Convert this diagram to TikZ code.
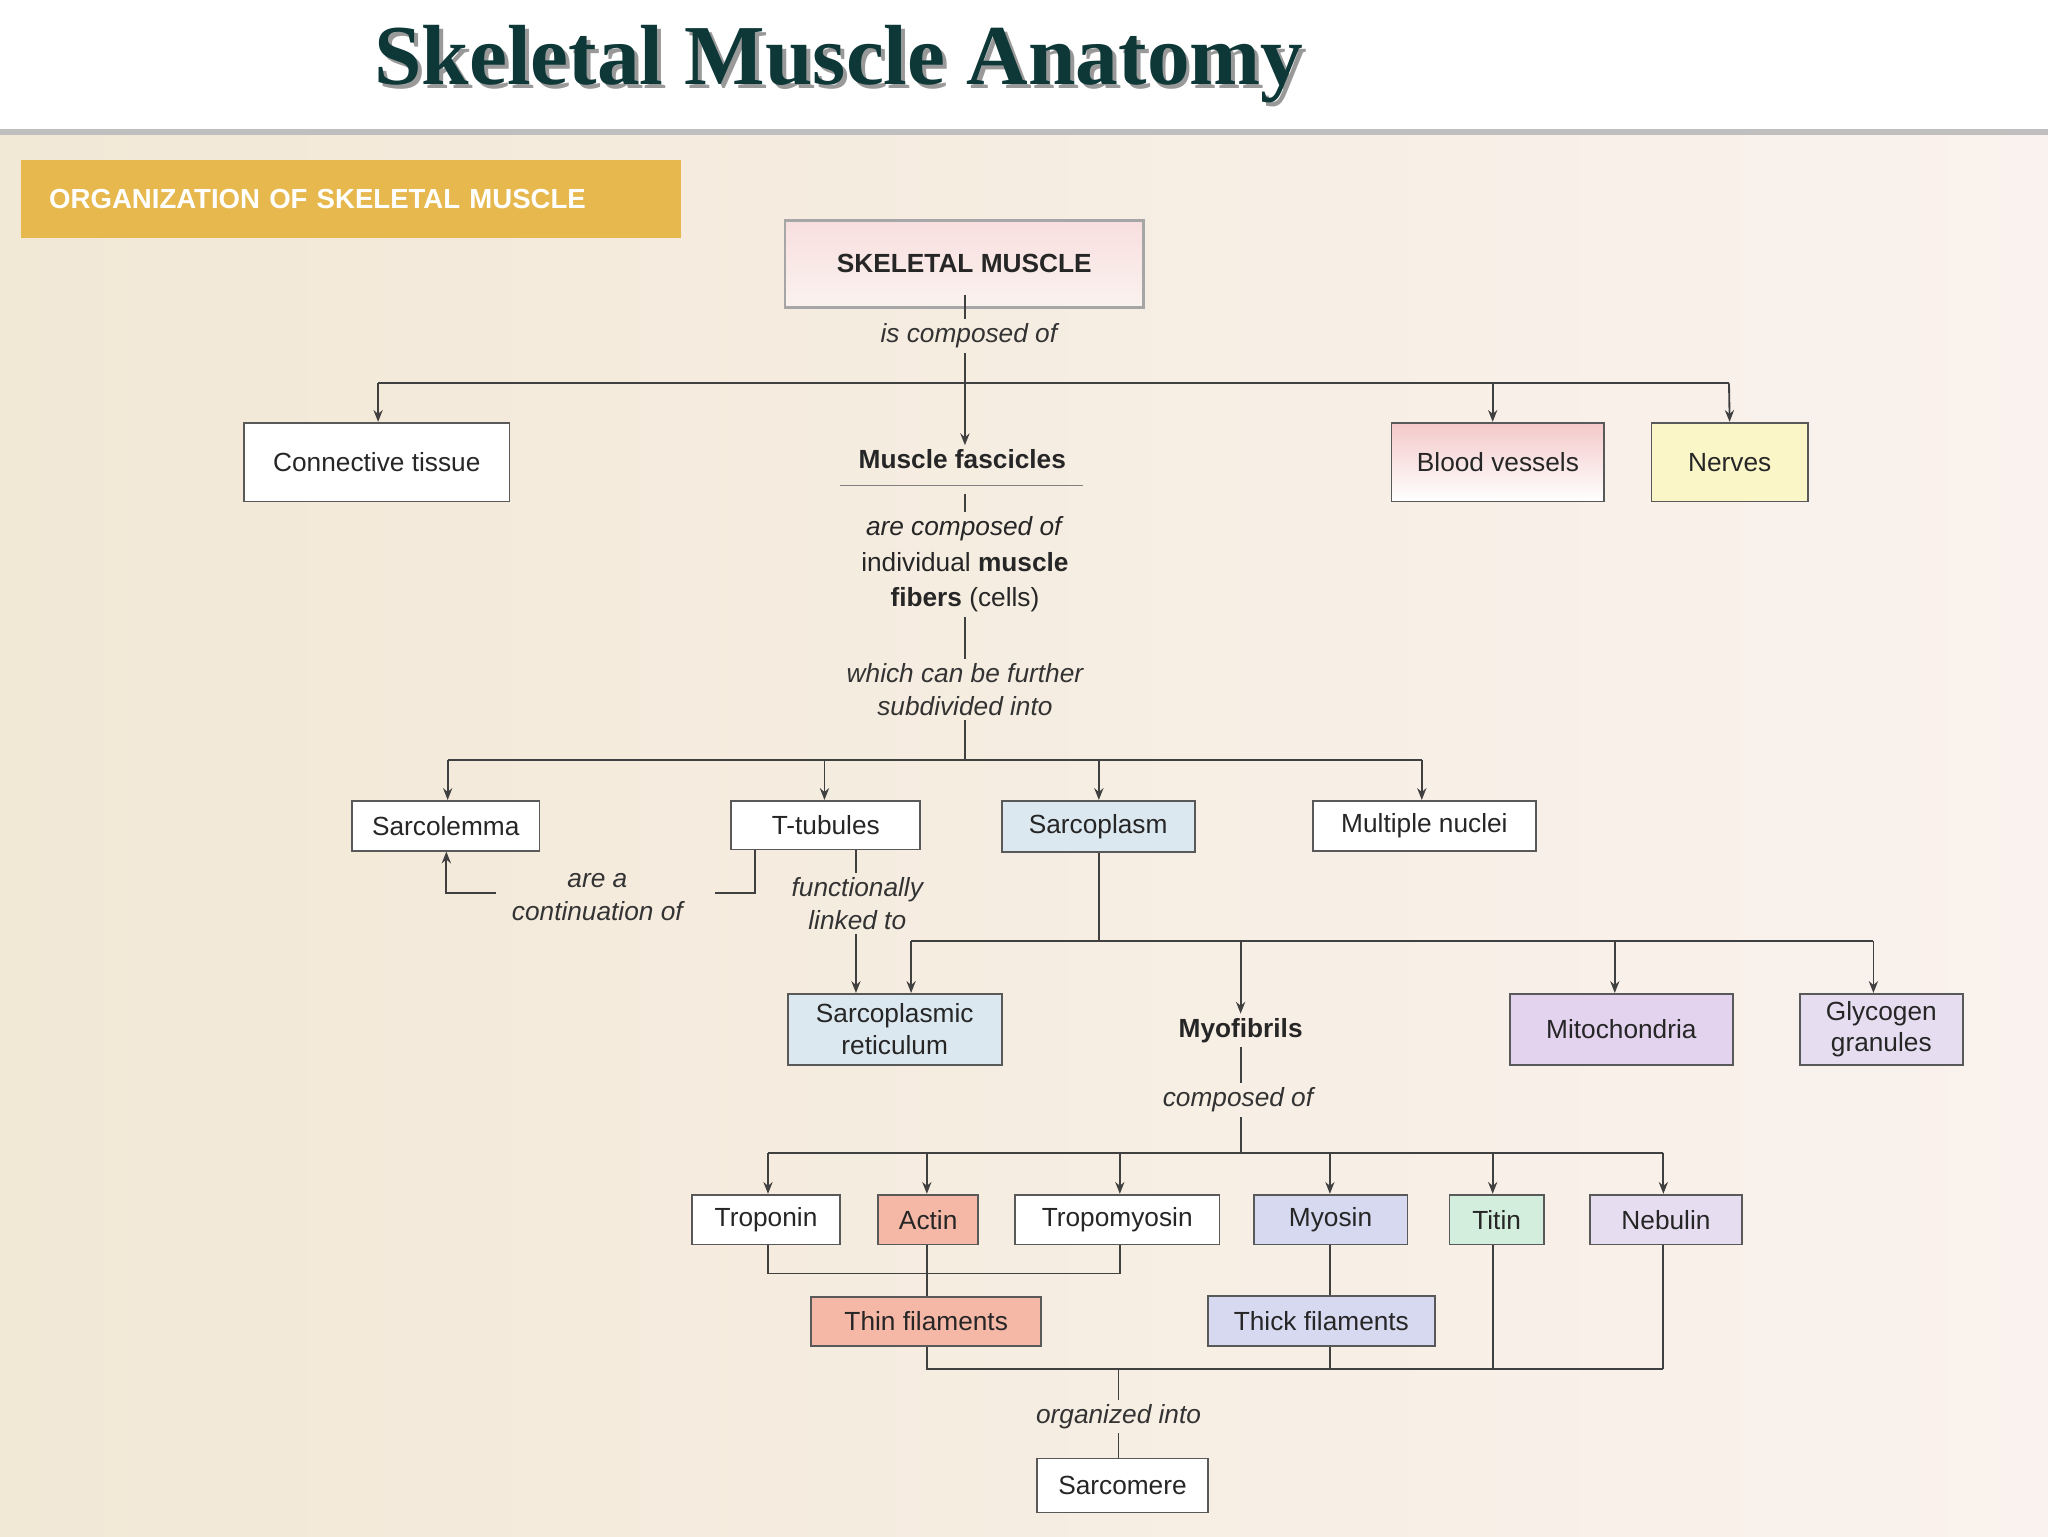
\documentclass[tikz,border=0pt]{standalone}
\usepackage{fontspec}
\setmainfont{Liberation Sans}
\newfontfamily\ttlfont{Liberation Serif}
\usetikzlibrary{arrows.meta}
\definecolor{bgl}{HTML}{F2E8D6}
\definecolor{bgr}{HTML}{FAF2EE}
\definecolor{org}{HTML}{E6B84E}
\definecolor{pinkb}{HTML}{F4C9C9}
\definecolor{yel}{HTML}{FBF6C8}
\definecolor{lblue}{HTML}{DCE8F0}
\definecolor{salm}{HTML}{F6B8A6}
\definecolor{lav}{HTML}{D6D9F0}
\definecolor{lgreen}{HTML}{D3EEDC}
\definecolor{lav2}{HTML}{E6DDF0}
\definecolor{mito}{HTML}{E3D3EE}
\definecolor{ttl}{HTML}{0E3838}
\begin{document}
\begin{tikzpicture}[x=1pt,y=-1pt,
  box/.style={draw=black!65, line width=1.3pt, inner sep=0pt, align=center, font=\fontsize{20}{23}\selectfont, text=black!85},
  ln/.style={draw=black!75, line width=1.4pt},
  ar/.style={ln, -{Stealth[length=9pt,width=7pt]}},
  it/.style={font=\fontsize{20}{25}\selectfont\itshape, text=black!80, align=center},
  bt/.style={font=\fontsize{20}{25}\selectfont\bfseries, text=black!85, align=center}]
\useasboundingbox (0,0) rectangle (1560,1170);
\fill[white] (0,0) rectangle (1560,1170);
\shade[left color=bgl, right color=bgr] (0,102) rectangle (1560,1170);
\fill[black!25] (0,98) rectangle (1560,103);
% title with shadow
\node[font=\ttlfont\bfseries\fontsize{65}{70}\selectfont, text=black!45] at (643,53) {\phantom{S}};
\begin{scope}[transform canvas={shift={(3pt,-3pt)}}]
\node[font=\ttlfont\bfseries\fontsize{65}{70}\selectfont, text=black!40] at (639,49) {Skeletal Muscle Anatomy};
\end{scope}
\node[font=\ttlfont\bfseries\fontsize{65}{70}\selectfont, text=ttl] (title) at (639,49) {Skeletal Muscle Anatomy};
% org label
\node[fill=org, minimum width=503pt, minimum height=59pt, inner sep=0pt, font=\fontsize{21}{24}\selectfont\bfseries, text=white, text width=460pt, align=left] (org) at (267.5,151.5) {ORGANIZATION OF SKELETAL MUSCLE};
% top
\node[box, draw=black!35, line width=2pt, top color=pinkb!60, bottom color=bgr, minimum width=273pt, minimum height=66pt, font=\fontsize{20}{23}\selectfont\bfseries] (sm) at (734.5,201) {SKELETAL MUSCLE};
\node[it] (comp1) at (738,256) {is composed of};
\draw[ln] (735,225) -- (comp1.north -| 735,0);
\draw[ln] (288,292) -- (1317,292);
\node[box, fill=white, minimum width=202pt, minimum height=60pt] (ct) at (287,352) {Connective tissue};
\node[bt] (mf) at (733,350) {Muscle fascicles};
\draw[line width=1pt, black!50] (640,370) -- (825,370);
\node[box, top color=pinkb, bottom color=white, minimum width=162pt, minimum height=60pt] (bv) at (1141,352) {Blood vessels};
\node[box, fill=yel, minimum width=119pt, minimum height=60pt] (nv) at (1317.5,352) {Nerves};
\draw[ar] (comp1.south -| 735,0) -- (mf.north -| 735,0);
\draw[ar] (288,292) -- (ct.north -| 288,0);
\draw[ar] (1137,292) -- (bv.north -| 1137,0);
\draw[ar] (1317,292) -- (nv.north);
\node[font=\fontsize{20}{27}\selectfont, text=black!85, align=center] (fib) at (735,430) {\textit{are composed of}\\individual \textbf{muscle}\\\textbf{fibers} (cells)};
\draw[ln] (735,376) -- (fib.north);
\node[it] (sub) at (735,525) {which can be further\\subdivided into};
\draw[ln] (fib.south) -- (sub.north);
\draw[ln] (sub.south) -- (735,579);
\draw[ln] (341,579) -- (1083,579);
\node[box, fill=white, minimum width=143pt, minimum height=38pt] (sl) at (339.5,629) {Sarcolemma};
\node[box, fill=white, minimum width=144pt, minimum height=37pt] (tt) at (629,628.5) {T-tubules};
\node[box, fill=lblue, minimum width=147pt, minimum height=39pt] (sp) at (836.5,629.5) {Sarcoplasm};
\node[box, fill=white, minimum width=170pt, minimum height=38pt] (mn) at (1085,629) {Multiple nuclei};
\draw[ar] (341,579) -- (sl.north -| 341,0);
\draw[ar] (628,579) -- (tt.north -| 628,0);
\draw[ar] (837,579) -- (sp.north -| 837,0);
\draw[ar] (1083,579) -- (mn.north -| 1083,0);
\node[it] (cont) at (455,683) {are a\\continuation of};
\draw[ln] (tt.south -| 575,0) -- (575,680) -- (545,680);
\draw[ar] (378,680) -- (340,680) -- (sl.south -| 340,0);
\node[it] (fl) at (653,688) {functionally\\linked to};
\draw[ln] (tt.south -| 652,0) -- (fl.north -| 652,0);
\node[box, fill=lblue, minimum width=163pt, minimum height=54pt, font=\fontsize{20}{24}\selectfont] (sr) at (681.5,784) {Sarcoplasmic\\reticulum};
\draw[ar] (fl.south -| 652,0) -- (sr.north -| 652,0);
\draw[ln] (sp.south -| 837,0) -- (837,717);
\draw[ln] (694,717) -- (1427,717);
\node[bt] (myo) at (945,785) {Myofibrils};
\node[box, fill=mito, minimum width=170pt, minimum height=54pt] (mi) at (1235,784) {Mitochondria};
\node[box, fill=lav2, minimum width=124pt, minimum height=54pt, font=\fontsize{20}{24}\selectfont] (gg) at (1433,784) {Glycogen\\granules};
\draw[ar] (694,717) -- (sr.north -| 694,0);
\draw[ar] (945,717) -- (myo.north);
\draw[ar] (1230,717) -- (mi.north -| 1230,0);
\draw[ar] (1427,717) -- (gg.north -| 1427,0);
\node[it] (comp2) at (943,838) {composed of};
\draw[ln] (myo.south) -- (comp2.north -| 945,0);
\draw[ln] (comp2.south -| 945,0) -- (945,878);
\draw[ln] (585,878) -- (1267,878);
\node[box, fill=white, minimum width=113pt, minimum height=38pt] (tn) at (583.5,929) {Troponin};
\node[box, fill=salm, minimum width=76pt, minimum height=38pt] (ac) at (707,929) {Actin};
\node[box, fill=white, minimum width=156pt, minimum height=38pt] (tm) at (851,929) {Tropomyosin};
\node[box, fill=lav, minimum width=117pt, minimum height=38pt] (my) at (1013.5,929) {Myosin};
\node[box, fill=lgreen, minimum width=72pt, minimum height=38pt] (ti) at (1140,929) {Titin};
\node[box, fill=lav2, minimum width=116pt, minimum height=38pt] (nb) at (1269,929) {Nebulin};
\draw[ar] (585,878) -- (tn.north -| 585,0);
\draw[ar] (706,878) -- (ac.north -| 706,0);
\draw[ar] (853,878) -- (tm.north -| 853,0);
\draw[ar] (1013,878) -- (my.north -| 1013,0);
\draw[ar] (1137,878) -- (ti.north -| 1137,0);
\draw[ar] (1267,878) -- (nb.north -| 1267,0);
\node[box, fill=salm, minimum width=175pt, minimum height=37pt] (thin) at (705.5,1006.5) {Thin filaments};
\node[box, fill=lav, minimum width=173pt, minimum height=38pt] (thick) at (1006.5,1006) {Thick filaments};
\draw[ln] (tn.south -| 585,0) -- (585,970) -- (853,970) -- (tm.south -| 853,0);
\draw[ln] (ac.south -| 706,0) -- (thin.north -| 706,0);
\draw[ln] (my.south -| 1013,0) -- (thick.north -| 1013,0);
\draw[ln] (thin.south -| 706,0) -- (706,1043) -- (1267,1043);
\draw[ln] (thick.south -| 1013,0) -- (1013,1043);
\draw[ln] (ti.south -| 1137,0) -- (1137,1043);
\draw[ln] (nb.south -| 1267,0) -- (1267,1043);
\node[it] (org2) at (852,1079) {organized into};
\draw[ln] (852,1043) -- (org2.north);
\node[box, fill=white, minimum width=130pt, minimum height=41pt] (sc) at (855,1131.5) {Sarcomere};
\draw[ln] (org2.south) -- (sc.north -| 852,0);
\end{tikzpicture}
\end{document}
